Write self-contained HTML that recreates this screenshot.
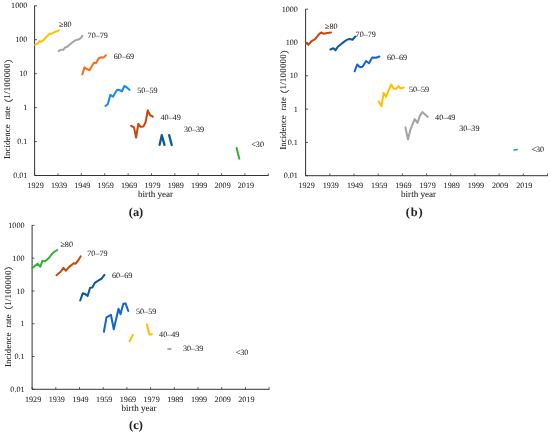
<!DOCTYPE html>
<html lang="en">
<head>
<meta charset="utf-8">
<title>Incidence rate by birth year</title>
<style>
html,body{margin:0;padding:0;background:#fff;}
body{width:550px;height:433px;overflow:hidden;}
svg{display:block;}
svg text{font-family:"Liberation Serif","Noto Serif CJK SC",serif;fill:#262626;stroke:#262626;stroke-width:0.05px;text-rendering:geometricPrecision;}
svg .cj{font-family:"Noto Serif CJK SC","Liberation Serif",serif;stroke-width:0.25px;}
</style>
</head>
<body>
<svg width="550" height="433" viewBox="0 0 550 433">
<rect width="550" height="433" fill="#ffffff"/>
<g>
<path d="M34.6,5.5V175.5H268.6" fill="none" stroke="#333333" stroke-width="1"/>
<path d="M34.6,5.8h2.4M34.6,39.7h2.4M34.6,73.7h2.4M34.6,107.6h2.4M34.6,141.6h2.4M34.6,175.5h2.4M34.6,175.5v-2.2M58.0,175.5v-2.2M81.3,175.5v-2.2M104.7,175.5v-2.2M128.1,175.5v-2.2M151.5,175.5v-2.2M174.8,175.5v-2.2M198.2,175.5v-2.2M221.6,175.5v-2.2M244.9,175.5v-2.2M268.3,175.5v-2.2" fill="none" stroke="#333333" stroke-width="0.8"/>
<text x="27.3" y="8.4" text-anchor="end" font-size="8.1">1000</text>
<text x="27.3" y="42.3" text-anchor="end" font-size="8.1">100</text>
<text x="27.3" y="76.3" text-anchor="end" font-size="8.1">10</text>
<text x="27.3" y="110.2" text-anchor="end" font-size="8.1">1</text>
<text x="27.3" y="144.2" text-anchor="end" font-size="8.1">0.1</text>
<text x="27.3" y="178.1" text-anchor="end" font-size="8.1">0.01</text>
<text x="35.6" y="187.9" text-anchor="middle" font-size="8.1">1929</text>
<text x="59.0" y="187.9" text-anchor="middle" font-size="8.1">1939</text>
<text x="82.3" y="187.9" text-anchor="middle" font-size="8.1">1949</text>
<text x="105.7" y="187.9" text-anchor="middle" font-size="8.1">1959</text>
<text x="129.1" y="187.9" text-anchor="middle" font-size="8.1">1969</text>
<text x="152.5" y="187.9" text-anchor="middle" font-size="8.1">1979</text>
<text x="175.8" y="187.9" text-anchor="middle" font-size="8.1">1989</text>
<text x="199.2" y="187.9" text-anchor="middle" font-size="8.1">1999</text>
<text x="222.6" y="187.9" text-anchor="middle" font-size="8.1">2009</text>
<text x="245.9" y="187.9" text-anchor="middle" font-size="8.1">2019</text>
<text x="155.6" y="197.0" text-anchor="middle" font-size="9.1">birth year</text>
<text x="136.0" y="215.9" text-anchor="middle" font-size="12.4" font-weight="bold" fill="#111" letter-spacing="0">(a)</text>
<text transform="translate(9.9,158.9) rotate(-90)" font-size="8.9" xml:space="preserve"><tspan word-spacing="2.6">Incidence rate</tspan><tspan class="cj" dx="-1.3" dy="1.9">（</tspan><tspan dy="-1.9" letter-spacing="0.24">1/100000</tspan><tspan class="cj" dy="1.9">）</tspan></text>
<polyline points="35.1,44.6 37.6,43.7 39.5,41.2 40.8,41.8 42.7,40.9 46.5,36.7 49.7,33.8 51.0,33.9 54.2,32.3 59.0,30.4" fill="none" stroke="#FFC000" stroke-width="2.05" stroke-linecap="round" stroke-linejoin="round"/>
<polyline points="58.6,51.0 61.2,49.7 63.3,49.8 65.0,47.5 66.9,46.9 68.2,46.0 70.7,43.7 73.9,41.2 76.5,39.9 79.0,39.3 80.9,38.0 82.4,35.8" fill="none" stroke="#A5A5A5" stroke-width="2.05" stroke-linecap="round" stroke-linejoin="round"/>
<polyline points="82.3,74.4 84.5,67.4 87.1,69.3 89.6,70.2 92.2,65.5 94.1,62.7 96.0,63.3 98.5,58.5 101.1,57.2 103.6,57.6 105.9,55.3" fill="none" stroke="#F4711F" stroke-width="2.05" stroke-linecap="round" stroke-linejoin="round"/>
<polyline points="105.5,106.0 107.9,103.9 110.3,94.9 113.0,96.7 116.9,90.1 118.7,89.8 122.0,91.3 124.4,85.9 127.1,87.7 129.5,89.8" fill="none" stroke="#1A8FE0" stroke-width="2.05" stroke-linecap="round" stroke-linejoin="round"/>
<polyline points="131.1,125.8 134.0,127.4 136.1,137.6 138.3,123.8 140.6,126.8 143.4,126.4 145.6,122.3 147.8,110.3 149.9,115.0 152.9,116.6" fill="none" stroke="#C44A0C" stroke-width="2.05" stroke-linecap="round" stroke-linejoin="round"/>
<polyline points="159.6,144.8 161.8,135.2 164.5,144.9" fill="none" stroke="#0A5A9C" stroke-width="2.3" stroke-linecap="round" stroke-linejoin="round"/>
<polyline points="169.2,135.2 171.7,145.0" fill="none" stroke="#0A5A9C" stroke-width="2.3" stroke-linecap="round" stroke-linejoin="round"/>
<polyline points="236.6,147.9 239.3,158.8" fill="none" stroke="#35B035" stroke-width="2.05" stroke-linecap="round" stroke-linejoin="round"/>
<text x="59.0" y="26.8" font-size="8.1">≥80</text>
<text x="87.6" y="37.8" font-size="8.1">70–79</text>
<text x="113.8" y="58.8" font-size="8.1">60–69</text>
<text x="137.3" y="92.8" font-size="8.1">50–59</text>
<text x="160.5" y="119.7" font-size="8.1">40–49</text>
<text x="183.9" y="132.0" font-size="8.1">30–39</text>
<text x="251.3" y="146.7" font-size="8.1">&lt;30</text>
</g>
<g>
<path d="M305.6,8.9V175.7H547.8" fill="none" stroke="#333333" stroke-width="1"/>
<path d="M305.6,9.2h2.4M305.6,42.5h2.4M305.6,75.8h2.4M305.6,109.1h2.4M305.6,142.4h2.4M305.6,175.7h2.4M305.6,175.7v-2.2M329.8,175.7v-2.2M354.0,175.7v-2.2M378.2,175.7v-2.2M402.4,175.7v-2.2M426.6,175.7v-2.2M450.7,175.7v-2.2M474.9,175.7v-2.2M499.1,175.7v-2.2M523.3,175.7v-2.2M547.5,175.7v-2.2" fill="none" stroke="#333333" stroke-width="0.8"/>
<text x="297.9" y="11.8" text-anchor="end" font-size="8.1">1000</text>
<text x="297.9" y="45.1" text-anchor="end" font-size="8.1">100</text>
<text x="297.9" y="78.4" text-anchor="end" font-size="8.1">10</text>
<text x="297.9" y="111.7" text-anchor="end" font-size="8.1">1</text>
<text x="297.9" y="145.0" text-anchor="end" font-size="8.1">0.1</text>
<text x="297.9" y="178.3" text-anchor="end" font-size="8.1">0.01</text>
<text x="306.6" y="188.0" text-anchor="middle" font-size="8.1">1929</text>
<text x="330.8" y="188.0" text-anchor="middle" font-size="8.1">1939</text>
<text x="355.0" y="188.0" text-anchor="middle" font-size="8.1">1949</text>
<text x="379.2" y="188.0" text-anchor="middle" font-size="8.1">1959</text>
<text x="403.4" y="188.0" text-anchor="middle" font-size="8.1">1969</text>
<text x="427.6" y="188.0" text-anchor="middle" font-size="8.1">1979</text>
<text x="451.7" y="188.0" text-anchor="middle" font-size="8.1">1989</text>
<text x="475.9" y="188.0" text-anchor="middle" font-size="8.1">1999</text>
<text x="500.1" y="188.0" text-anchor="middle" font-size="8.1">2009</text>
<text x="524.3" y="188.0" text-anchor="middle" font-size="8.1">2019</text>
<text x="418.6" y="196.6" text-anchor="middle" font-size="9.1">birth year</text>
<text x="414.7" y="215.9" text-anchor="middle" font-size="12.4" font-weight="bold" fill="#111" letter-spacing="0.9">(b)</text>
<text transform="translate(286.1,149.7) rotate(-90)" font-size="8.9" xml:space="preserve"><tspan word-spacing="2.6">Incidence rate</tspan><tspan class="cj" dx="-1.3" dy="1.9">（</tspan><tspan dy="-1.9" letter-spacing="0.24">1/100000</tspan><tspan class="cj" dy="1.9">）</tspan></text>
<polyline points="306.3,43.0 308.3,44.8 311.3,41.4 315.1,39.2 318.9,34.4 321.1,32.5 323.4,33.7 327.2,33.1 331.0,32.5" fill="none" stroke="#C44A0C" stroke-width="2.05" stroke-linecap="round" stroke-linejoin="round"/>
<polyline points="330.4,49.5 333.4,48.3 335.5,50.3 337.8,46.7 341.0,44.2 344.2,41.6 347.4,39.5 349.9,39.1 352.5,39.7 355.4,36.5" fill="none" stroke="#0A5A9C" stroke-width="2.05" stroke-linecap="round" stroke-linejoin="round"/>
<polyline points="354.6,71.3 357.2,64.5 360.1,67.3 362.6,66.8 366.1,61.0 369.0,63.3 372.2,57.5 376.0,57.7 379.4,56.5" fill="none" stroke="#1565D0" stroke-width="2.05" stroke-linecap="round" stroke-linejoin="round"/>
<polyline points="378.7,101.5 381.5,106.2 383.6,92.8 386.0,96.8 388.8,89.8 391.1,84.6 393.6,88.8 396.2,88.8 398.3,86.3 400.6,88.4 403.8,87.5" fill="none" stroke="#FFC000" stroke-width="2.05" stroke-linecap="round" stroke-linejoin="round"/>
<polyline points="405.4,127.4 408.0,139.5 410.3,129.9 414.7,119.1 417.5,122.9 419.8,115.9 422.4,112.1 427.8,116.9" fill="none" stroke="#A5A5A5" stroke-width="2.05" stroke-linecap="round" stroke-linejoin="round"/>
<polyline points="514.0,149.9 517.2,149.6" fill="none" stroke="#1A8FE0" stroke-width="1.5" stroke-linecap="round" stroke-linejoin="round"/>
<text x="325.0" y="29.0" font-size="8.1">≥80</text>
<text x="355.6" y="37.2" font-size="8.1">70–79</text>
<text x="386.9" y="59.5" font-size="8.1">60–69</text>
<text x="408.9" y="91.6" font-size="8.1">50–59</text>
<text x="435.1" y="119.7" font-size="8.1">40–49</text>
<text x="459.2" y="130.9" font-size="8.1">30–39</text>
<text x="531.5" y="151.7" font-size="8.1">&lt;30</text>
</g>
<g>
<path d="M32.1,225.1V389.3H269.4" fill="none" stroke="#333333" stroke-width="1"/>
<path d="M32.1,225.4h2.4M32.1,258.2h2.4M32.1,291.0h2.4M32.1,323.7h2.4M32.1,356.5h2.4M32.1,389.3h2.4M32.1,389.3v-2.2M55.8,389.3v-2.2M79.5,389.3v-2.2M103.2,389.3v-2.2M126.9,389.3v-2.2M150.6,389.3v-2.2M174.3,389.3v-2.2M198.0,389.3v-2.2M221.7,389.3v-2.2M245.4,389.3v-2.2M269.1,389.3v-2.2" fill="none" stroke="#333333" stroke-width="0.8"/>
<text x="24.5" y="228.0" text-anchor="end" font-size="8.1">1000</text>
<text x="24.5" y="260.8" text-anchor="end" font-size="8.1">100</text>
<text x="24.5" y="293.6" text-anchor="end" font-size="8.1">10</text>
<text x="24.5" y="326.3" text-anchor="end" font-size="8.1">1</text>
<text x="24.5" y="359.1" text-anchor="end" font-size="8.1">0.1</text>
<text x="24.5" y="391.9" text-anchor="end" font-size="8.1">0.01</text>
<text x="33.1" y="401.9" text-anchor="middle" font-size="8.1">1929</text>
<text x="56.8" y="401.9" text-anchor="middle" font-size="8.1">1939</text>
<text x="80.5" y="401.9" text-anchor="middle" font-size="8.1">1949</text>
<text x="104.2" y="401.9" text-anchor="middle" font-size="8.1">1959</text>
<text x="127.9" y="401.9" text-anchor="middle" font-size="8.1">1969</text>
<text x="151.6" y="401.9" text-anchor="middle" font-size="8.1">1979</text>
<text x="175.3" y="401.9" text-anchor="middle" font-size="8.1">1989</text>
<text x="199.0" y="401.9" text-anchor="middle" font-size="8.1">1999</text>
<text x="222.7" y="401.9" text-anchor="middle" font-size="8.1">2009</text>
<text x="246.4" y="401.9" text-anchor="middle" font-size="8.1">2019</text>
<text x="139.1" y="410.6" text-anchor="middle" font-size="9.1">birth year</text>
<text x="135.9" y="429.1" text-anchor="middle" font-size="12.4" font-weight="bold" fill="#111" letter-spacing="0">(c)</text>
<text transform="translate(10.5,367.0) rotate(-90)" font-size="8.9" xml:space="preserve"><tspan word-spacing="2.6">Incidence rate</tspan><tspan class="cj" dx="-0.3" dy="1.9">（</tspan><tspan dy="-1.9" letter-spacing="0.24">1/100000</tspan><tspan class="cj" dy="1.9">）</tspan></text>
<polyline points="32.5,267.9 37.5,263.7 40.3,266.7 42.4,260.8 45.1,261.2 48.9,258.0 52.7,253.0 57.2,250.0" fill="none" stroke="#35B035" stroke-width="2.05" stroke-linecap="round" stroke-linejoin="round"/>
<polyline points="56.5,275.2 60.4,272.0 63.5,267.8 65.8,270.7 69.3,266.9 73.7,263.3 75.6,263.7 78.2,260.5 80.7,256.3" fill="none" stroke="#C44A0C" stroke-width="2.05" stroke-linecap="round" stroke-linejoin="round"/>
<polyline points="80.2,300.5 82.7,293.3 85.3,294.1 87.6,296.0 90.1,287.7 92.3,287.4 94.8,282.9 98.6,280.4 101.8,278.5 104.4,274.9" fill="none" stroke="#0A5A9C" stroke-width="2.05" stroke-linecap="round" stroke-linejoin="round"/>
<polyline points="103.9,331.7 106.5,317.4 110.9,314.8 113.8,329.2 118.5,308.8 120.5,314.2 123.3,303.7 125.5,303.4 128.3,311.0" fill="none" stroke="#1565D0" stroke-width="2.05" stroke-linecap="round" stroke-linejoin="round"/>
<polyline points="129.6,341.3 132.9,334.9" fill="none" stroke="#FFC000" stroke-width="2.05" stroke-linecap="round" stroke-linejoin="round"/>
<polyline points="146.8,324.4 149.3,334.5 152.0,334.2" fill="none" stroke="#FFC000" stroke-width="2.05" stroke-linecap="round" stroke-linejoin="round"/>
<polyline points="167.9,349.0 171.0,349.0" fill="none" stroke="#8F8F8F" stroke-width="1.3" stroke-linecap="round" stroke-linejoin="round"/>
<text x="60.4" y="247.2" font-size="8.1">≥80</text>
<text x="87.3" y="256.1" font-size="8.1">70–79</text>
<text x="112.0" y="277.6" font-size="8.1">60–69</text>
<text x="136.0" y="313.5" font-size="8.1">50–59</text>
<text x="159.1" y="336.9" font-size="8.1">40–49</text>
<text x="183.0" y="351.2" font-size="8.1">30–39</text>
<text x="235.7" y="354.9" font-size="8.1">&lt;30</text>
</g>
</svg>
</body>
</html>
